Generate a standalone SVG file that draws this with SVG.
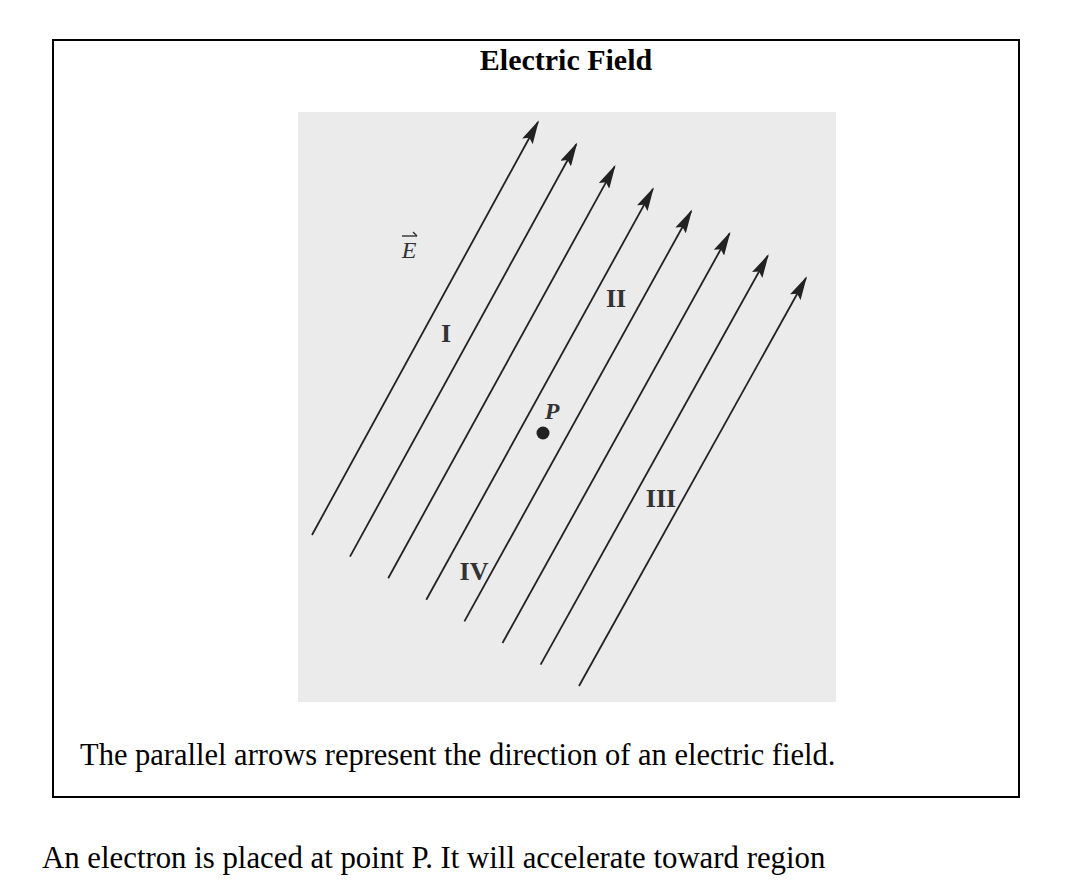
<svg xmlns="http://www.w3.org/2000/svg" width="1070" height="890" viewBox="0 0 1070 890">
<style>
.t{font-family:"Liberation Serif",serif;fill:#000}
.f{stroke:#222;stroke-width:1.8;fill:none}
.l{font-family:"Liberation Serif",serif;font-weight:bold;font-size:26px;fill:#333}
</style>
<defs>
<marker id="ah2" markerWidth="24" markerHeight="12" refX="22" refY="6" orient="auto" markerUnits="userSpaceOnUse" viewBox="0 0 24 12"><path d="M0,0 L24,6 L0,12 L4,6 Z" fill="#222"/></marker></defs>
<rect width="1070" height="890" fill="#fff"/>
<rect x="53" y="40" width="966" height="757" fill="none" stroke="#000" stroke-width="2"/>
<text class="t" x="566" y="70" text-anchor="middle" font-size="30" font-weight="bold">Electric Field</text>
<rect x="298" y="112" width="538" height="590" fill="#ebebeb"/>
<g id="connectors">
<line class="f" marker-end="url(#ah2)" x1="312" y1="535" x2="538" y2="122"/>
<line class="f" marker-end="url(#ah2)" x1="350" y1="556.6" x2="576.3" y2="144.3"/>
<line class="f" marker-end="url(#ah2)" x1="388.2" y1="578.2" x2="614.6" y2="166.6"/>
<line class="f" marker-end="url(#ah2)" x1="426.3" y1="599.8" x2="652.9" y2="188.9"/>
<line class="f" marker-end="url(#ah2)" x1="464.4" y1="621.4" x2="691.2" y2="211.2"/>
<line class="f" marker-end="url(#ah2)" x1="502.5" y1="643" x2="729.5" y2="233.5"/>
<line class="f" marker-end="url(#ah2)" x1="540.6" y1="664.6" x2="767.8" y2="255.8"/>
<line class="f" marker-end="url(#ah2)" x1="579" y1="686" x2="806" y2="278"/>
</g>
<g id="labels">
<text x="409" y="258" text-anchor="middle" font-family="Liberation Serif,serif" font-style="italic" font-size="24" fill="#333">E</text>
<line x1="402" y1="236" x2="417" y2="236" stroke="#333" stroke-width="1.4"/>
<path d="M413,232 L417,236" stroke="#333" stroke-width="1.4"/>
<text class="l" x="446" y="342" text-anchor="middle">I</text>
<text class="l" x="616" y="307" text-anchor="middle">II</text>
<text class="l" x="661" y="507" text-anchor="middle">III</text>
<text class="l" x="474" y="580" text-anchor="middle">IV</text>
<text x="552" y="419" text-anchor="middle" font-family="Liberation Serif,serif" font-style="italic" font-weight="bold" font-size="24" fill="#333">P</text>
<circle id="P" cx="543" cy="433" r="6.5" fill="#222"/>
</g>
<text class="t" x="80" y="765" font-size="30.5">The parallel arrows represent the direction of an electric field.</text>
<text class="t" x="42" y="868" font-size="30.8">An electron is placed at point P. It will accelerate toward region</text>
</svg>
